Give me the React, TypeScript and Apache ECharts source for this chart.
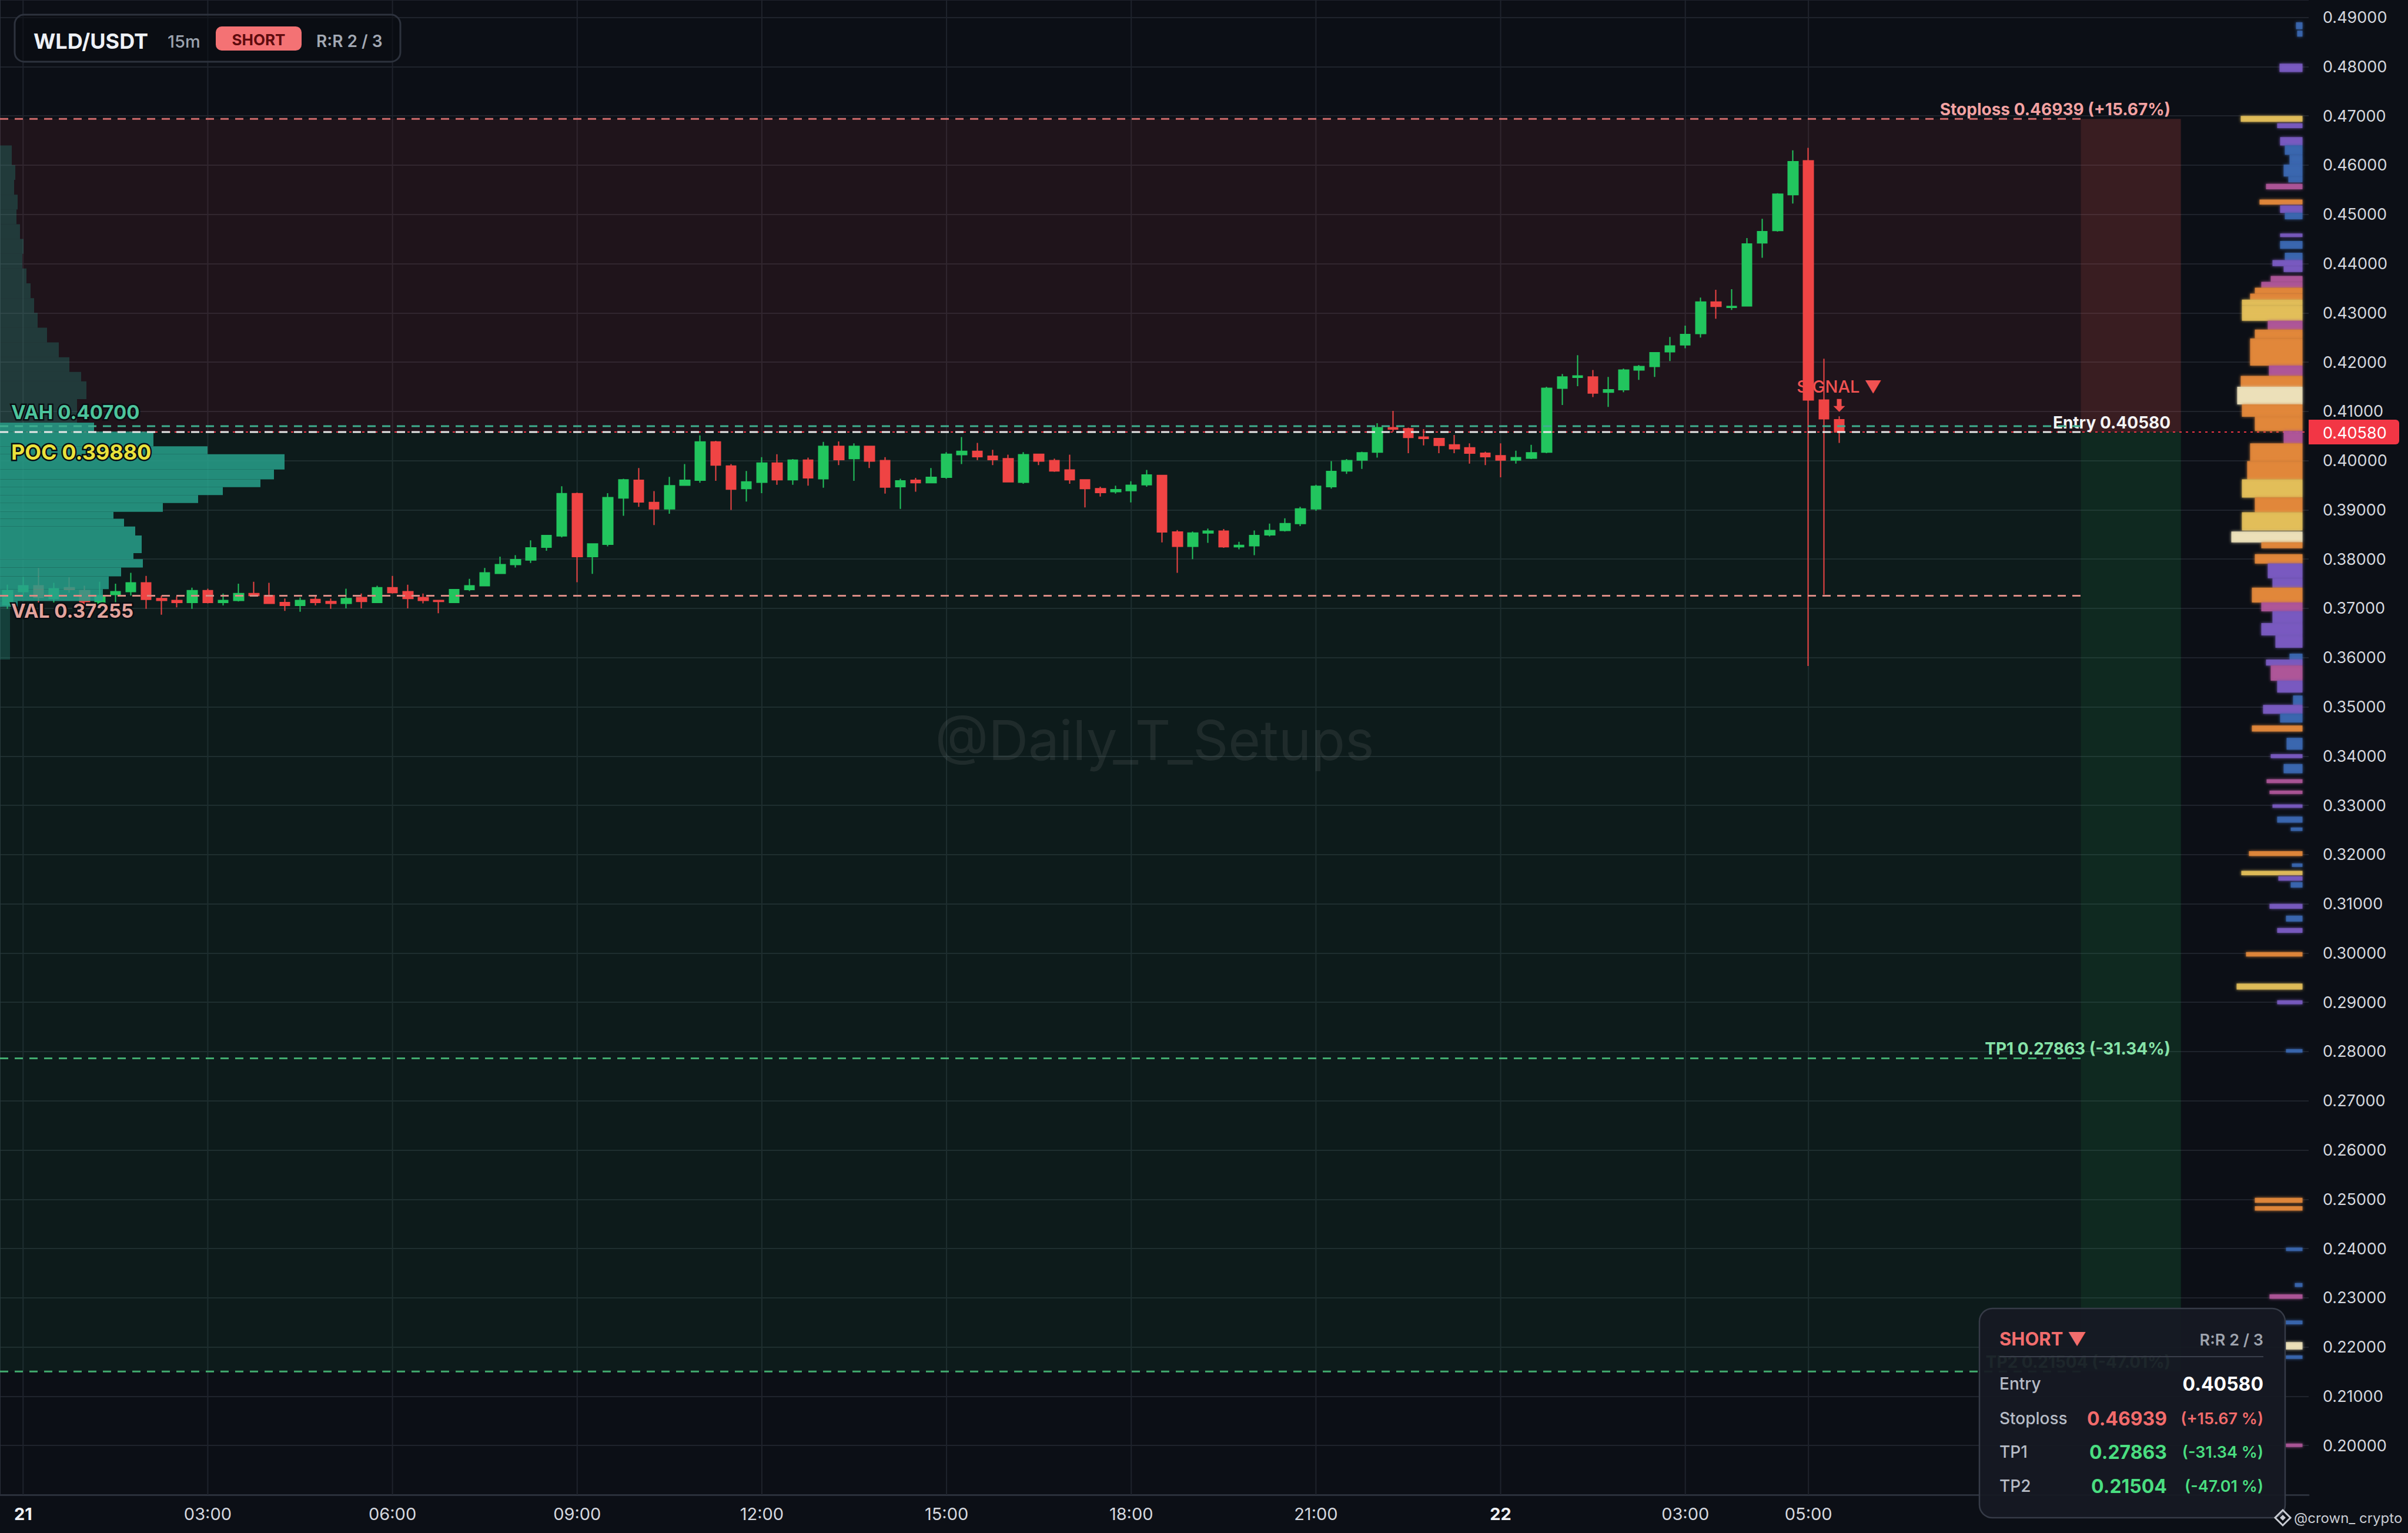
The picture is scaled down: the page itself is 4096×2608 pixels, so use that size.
import React, { useEffect, useRef } from "react";
import * as echarts from "echarts";

// ---------------- data ----------------
const symbolName = "WLD/USDT";
const timeframe = "15m";
const side = "SHORT";
const riskReward = "2 / 3";
const watermark = "@Daily_T_Setups";
const credit = "@crown_ crypto";

const firstDay = 20;
const firstMinuteOfDay = 23 * 60 + 45;
const slotMinutes = 15;
const slotCount = 150;

const xTickTimes = ["21 00:00", "21 03:00", "21 06:00", "21 09:00", "21 12:00", "21 15:00", "21 18:00", "21 21:00", "22 00:00", "22 03:00", "22 05:00"];
const xTickLabels = ["21", "03:00", "06:00", "09:00", "12:00", "15:00", "18:00", "21:00", "22", "03:00", "05:00"];
const xTickBold = ["21", "22"];

const yMin = 0.19;
const yMax = 0.49353;
const yStep = 0.01;

// [open, high, low, close] per 15m candle, first = 20th 23:45
const candleOHLC = [
  [0.3707, 0.3748, 0.3699, 0.3736], [0.3734, 0.3764, 0.3724, 0.3746], [0.3746, 0.3782, 0.3712, 0.3722], [0.3720, 0.3752, 0.3712, 0.3740],
  [0.3742, 0.3763, 0.3732, 0.3738], [0.3736, 0.3746, 0.3704, 0.3710], [0.3710, 0.3754, 0.3706, 0.3726], [0.3728, 0.3750, 0.3710, 0.3734],
  [0.3734, 0.3772, 0.3726, 0.3752], [0.3752, 0.3766, 0.3699, 0.3718], [0.3720, 0.3726, 0.3687, 0.3716], [0.3716, 0.3724, 0.3702, 0.3712],
  [0.3712, 0.3742, 0.3699, 0.3736], [0.3736, 0.3740, 0.3710, 0.3712], [0.3712, 0.3730, 0.3706, 0.3716], [0.3716, 0.3750, 0.3714, 0.3730],
  [0.3730, 0.3754, 0.3724, 0.3726], [0.3726, 0.3752, 0.3710, 0.3710], [0.3712, 0.3720, 0.3695, 0.3706], [0.3706, 0.3722, 0.3693, 0.3716],
  [0.3718, 0.3724, 0.3706, 0.3712], [0.3714, 0.3720, 0.3699, 0.3710], [0.3710, 0.3740, 0.3700, 0.3720], [0.3722, 0.3730, 0.3700, 0.3714],
  [0.3712, 0.3746, 0.3712, 0.3742], [0.3742, 0.3766, 0.3730, 0.3732], [0.3734, 0.3748, 0.3700, 0.3720], [0.3722, 0.3730, 0.3710, 0.3716],
  [0.3716, 0.3717, 0.3690, 0.3714], [0.3712, 0.3739, 0.3711, 0.3738], [0.3738, 0.3760, 0.3735, 0.3746], [0.3746, 0.3782, 0.3745, 0.3772],
  [0.3771, 0.3805, 0.3770, 0.3789], [0.3789, 0.3808, 0.3783, 0.3799], [0.3798, 0.3838, 0.3792, 0.3823], [0.3824, 0.3849, 0.3817, 0.3848],
  [0.3847, 0.3948, 0.3844, 0.3933], [0.3933, 0.3935, 0.3753, 0.3805], [0.3805, 0.3832, 0.3770, 0.3831], [0.3830, 0.3934, 0.3826, 0.3925],
  [0.3924, 0.3963, 0.3888, 0.3961], [0.3960, 0.3985, 0.3906, 0.3916], [0.3915, 0.3938, 0.3869, 0.3902], [0.3902, 0.3967, 0.3892, 0.3949],
  [0.3950, 0.3993, 0.3949, 0.3960], [0.3960, 0.4051, 0.3955, 0.4038], [0.4038, 0.4040, 0.3959, 0.3991], [0.3989, 0.3993, 0.3900, 0.3942],
  [0.3943, 0.3979, 0.3917, 0.3957], [0.3956, 0.4007, 0.3934, 0.3995], [0.3995, 0.4013, 0.3951, 0.3961], [0.3961, 0.4003, 0.3951, 0.4001],
  [0.4001, 0.4006, 0.3949, 0.3965], [0.3963, 0.4038, 0.3945, 0.4029], [0.4029, 0.4039, 0.3991, 0.4002], [0.4004, 0.4035, 0.3959, 0.4029],
  [0.4029, 0.4030, 0.3985, 0.3999], [0.4000, 0.4007, 0.3933, 0.3946], [0.3947, 0.3963, 0.3902, 0.3959], [0.3960, 0.3965, 0.3937, 0.3955],
  [0.3955, 0.3985, 0.3954, 0.3966], [0.3966, 0.4017, 0.3963, 0.4013], [0.4012, 0.4048, 0.3993, 0.4019], [0.4019, 0.4036, 0.4001, 0.4008],
  [0.4009, 0.4022, 0.3991, 0.4002], [0.4004, 0.4012, 0.3957, 0.3957], [0.3956, 0.4017, 0.3953, 0.4012], [0.4013, 0.4014, 0.3991, 0.3999],
  [0.4000, 0.4004, 0.3977, 0.3979], [0.3981, 0.4012, 0.3953, 0.3961], [0.3961, 0.3962, 0.3905, 0.3943], [0.3943, 0.3947, 0.3927, 0.3935],
  [0.3937, 0.3949, 0.3933, 0.3941], [0.3939, 0.3958, 0.3915, 0.3950], [0.3951, 0.3981, 0.3947, 0.3971], [0.3970, 0.3971, 0.3834, 0.3855],
  [0.3855, 0.3859, 0.3772, 0.3826], [0.3826, 0.3856, 0.3800, 0.3853], [0.3853, 0.3862, 0.3833, 0.3857], [0.3857, 0.3861, 0.3823, 0.3825],
  [0.3825, 0.3835, 0.3820, 0.3828], [0.3827, 0.3858, 0.3808, 0.3848], [0.3849, 0.3872, 0.3846, 0.3858], [0.3858, 0.3883, 0.3856, 0.3872],
  [0.3872, 0.3906, 0.3867, 0.3902], [0.3902, 0.3951, 0.3898, 0.3948], [0.3947, 0.3999, 0.3943, 0.3978], [0.3979, 0.4003, 0.3973, 0.4000],
  [0.4001, 0.4018, 0.3983, 0.4016], [0.4017, 0.4076, 0.4006, 0.4067], [0.4067, 0.4101, 0.4059, 0.4064], [0.4065, 0.4067, 0.4015, 0.4047],
  [0.4048, 0.4064, 0.4031, 0.4045], [0.4045, 0.4046, 0.4015, 0.4031], [0.4032, 0.4052, 0.4015, 0.4024], [0.4026, 0.4035, 0.3994, 0.4015],
  [0.4015, 0.4018, 0.3991, 0.4008], [0.4010, 0.4035, 0.3966, 0.4001], [0.4001, 0.4020, 0.3994, 0.4006], [0.4005, 0.4032, 0.4003, 0.4016],
  [0.4017, 0.4150, 0.4015, 0.4147], [0.4147, 0.4176, 0.4113, 0.4170], [0.4169, 0.4214, 0.4151, 0.4172], [0.4170, 0.4184, 0.4129, 0.4137],
  [0.4139, 0.4170, 0.4109, 0.4144], [0.4144, 0.4187, 0.4139, 0.4184], [0.4184, 0.4194, 0.4164, 0.4191], [0.4191, 0.4220, 0.4170, 0.4219],
  [0.4221, 0.4251, 0.4202, 0.4233], [0.4235, 0.4274, 0.4228, 0.4256], [0.4258, 0.4331, 0.4250, 0.4322], [0.4322, 0.4347, 0.4288, 0.4313],
  [0.4311, 0.4348, 0.4306, 0.4313], [0.4314, 0.4452, 0.4313, 0.4440], [0.4442, 0.4491, 0.4412, 0.4465], [0.4467, 0.4543, 0.4465, 0.4541],
  [0.4540, 0.4630, 0.4522, 0.4607], [0.4609, 0.4635, 0.3583, 0.4123], [0.4123, 0.4207, 0.3728, 0.4085], [0.4083, 0.4090, 0.4036, 0.4058],
];

const tradeNames = ["Stoploss", "Entry", "TP1", "TP2"];
const tradePrices = [0.46939, 0.4058, 0.27863, 0.21504];
const tradePct = ["+15.67", "", "-31.34", "-47.01"];
const profileNames = ["VAH", "POC", "VAL"];
const profilePrices = [0.407, 0.3988, 0.37255];
const lastPrice = 0.4058;
const signalCandle = 119;
const signalArrowPrice = 0.4112;
const signalTextPrice = 0.415;

// session volume profile (left): [low, high, volume]
const sessionProfile = [
  [0.4600, 0.4640, 20], [0.4570, 0.4600, 26], [0.4540, 0.4570, 24], [0.4510, 0.4540, 30], [0.4480, 0.4510, 28],
  [0.4450, 0.4480, 34], [0.4420, 0.4450, 40], [0.4390, 0.4420, 38], [0.4360, 0.4390, 45], [0.4330, 0.4360, 52],
  [0.4300, 0.4330, 58], [0.4270, 0.4300, 64], [0.4240, 0.4270, 80], [0.4210, 0.4240, 100], [0.4180, 0.4210, 118],
  [0.4161, 0.4180, 138], [0.4125, 0.4161, 147], [0.4077, 0.4125, 131], [0.4059, 0.4077, 160], [0.4045, 0.4059, 261],
  [0.4029, 0.4045, 261], [0.4013, 0.4029, 353], [0.3982, 0.4013, 484], [0.3962, 0.3982, 466], [0.3946, 0.3962, 443],
  [0.3930, 0.3946, 379], [0.3914, 0.3930, 337], [0.3896, 0.3914, 277], [0.3882, 0.3896, 193], [0.3866, 0.3882, 211],
  [0.3848, 0.3866, 230], [0.3812, 0.3848, 241], [0.3800, 0.3812, 227], [0.3783, 0.3800, 243], [0.3765, 0.3783, 206],
  [0.3739, 0.3765, 185], [0.3715, 0.3739, 175], [0.3703, 0.3715, 30], [0.3596, 0.3703, 17],
];

// visible range profile (right): [low, high, volume, heat bucket]
const rangeProfile = [
  [0.4876, 0.4890, 11, 1], [0.4861, 0.4873, 9, 1], [0.4789, 0.4806, 39, 0], [0.4688, 0.4700, 105, 4], [0.4675, 0.4685, 43, 0],
  [0.4640, 0.4657, 38, 0], [0.4621, 0.4640, 30, 1], [0.4601, 0.4621, 22, 1], [0.4577, 0.4601, 32, 1], [0.4565, 0.4577, 24, 1],
  [0.4551, 0.4562, 62, 2], [0.4520, 0.4530, 73, 3], [0.4503, 0.4518, 38, 0], [0.4490, 0.4503, 30, 1], [0.4454, 0.4461, 38, 0],
  [0.4430, 0.4446, 38, 1], [0.4407, 0.4422, 30, 1], [0.4395, 0.4407, 51, 0], [0.4383, 0.4395, 32, 0], [0.4363, 0.4375, 54, 2],
  [0.4351, 0.4363, 70, 2], [0.4339, 0.4351, 81, 3], [0.4327, 0.4339, 89, 3], [0.4315, 0.4327, 103, 4], [0.4284, 0.4315, 103, 4],
  [0.4266, 0.4284, 59, 2], [0.4248, 0.4266, 81, 3], [0.4193, 0.4248, 89, 3], [0.4172, 0.4193, 57, 2], [0.4150, 0.4172, 105, 3],
  [0.4114, 0.4150, 111, 5], [0.4089, 0.4114, 103, 3], [0.4060, 0.4089, 81, 3], [0.4035, 0.4060, 32, 2], [0.3999, 0.4035, 89, 3],
  [0.3962, 0.3999, 94, 3], [0.3925, 0.3962, 103, 4], [0.3895, 0.3925, 81, 3], [0.3858, 0.3895, 103, 4], [0.3834, 0.3856, 121, 5],
  [0.3822, 0.3834, 70, 3], [0.3791, 0.3810, 81, 3], [0.3761, 0.3791, 59, 0], [0.3742, 0.3761, 51, 0], [0.3712, 0.3742, 86, 3],
  [0.3694, 0.3712, 70, 2], [0.3670, 0.3694, 51, 0], [0.3645, 0.3670, 70, 0], [0.3620, 0.3645, 46, 0], [0.3596, 0.3608, 22, 1],
  [0.3584, 0.3596, 62, 0], [0.3553, 0.3584, 54, 2], [0.3529, 0.3553, 43, 0], [0.3504, 0.3523, 16, 1], [0.3486, 0.3504, 67, 0],
  [0.3468, 0.3486, 38, 1], [0.3450, 0.3462, 86, 3], [0.3413, 0.3437, 27, 1], [0.3396, 0.3404, 54, 0], [0.3365, 0.3384, 32, 1],
  [0.3345, 0.3353, 61, 2], [0.3323, 0.3330, 56, 2], [0.3295, 0.3302, 51, 0], [0.3265, 0.3277, 43, 1], [0.3248, 0.3255, 20, 1],
  [0.3197, 0.3207, 91, 3], [0.3175, 0.3182, 18, 1], [0.3158, 0.3167, 104, 4], [0.3147, 0.3156, 41, 0], [0.3133, 0.3144, 20, 1],
  [0.3090, 0.3100, 56, 0], [0.3064, 0.3076, 28, 1], [0.3041, 0.3051, 43, 0], [0.2993, 0.3002, 96, 3], [0.2926, 0.2938, 112, 4],
  [0.2896, 0.2904, 43, 0], [0.2798, 0.2805, 28, 1], [0.2493, 0.2503, 81, 3], [0.2477, 0.2486, 81, 3], [0.2395, 0.2402, 28, 1],
  [0.2322, 0.2330, 13, 1], [0.2298, 0.2307, 56, 2], [0.2246, 0.2254, 33, 1], [0.2195, 0.2210, 29, 5], [0.2176, 0.2183, 29, 1],
  [0.1997, 0.2004, 29, 2],
];

// ---------------- layout & style ----------------
const CHART_W = 4096;
const CHART_H = 2608;
const gridRight = 169;
const gridBottom = 65;
const plotWidthPx = CHART_W - gridRight;
const posStartSlot = 135.2;
const posEndSlot = 141.7;
const labelEndSlot = 141.03;
const rightProfileGap = 10.5;

const FONT = 'Inter, "DejaVu Sans", sans-serif';
const BG = "#0c0f16";
const GRID_COLOR = "#1f232c";
const AXIS_COLOR = "#2b303b";
const LABEL_COLOR = "#d5d8df";
const upColor = "#22c55e";
const downColor = "#ef4444";
const priceTagColor = "#f23645";
const heatColors = ["#7b5cc4", "#3b68b3", "#b2579b", "#e6893b", "#e7c25a", "#f1e5bd"];
const zoneColors = ["rgba(239,83,80,0.085)", "rgba(239,83,80,0.2)", "rgba(34,197,94,0.07)", "rgba(34,197,94,0.15)"];
const tradeLineColors = ["rgba(227,116,116,0.9)", "#e8e8e8", "rgba(76,197,126,0.85)", "rgba(76,197,126,0.85)"];
const tradeLabelColors = ["#f3a2a2", "#f4f4f4", "#86e3a8", "#86e3a8"];
const profileLineColors = ["#3fae8f", "#e6dc3a", "#d98b84"];
const profileLabelColors = ["#4dc49c", "#e9e23c", "#e3a39c"];
const profileLabelFonts = [`bold 33px ${FONT}`, `bold 36px ${FONT}`, `bold 33px ${FONT}`];
const profileLabelOffsets = [-24, -25, 25];
const ARROW_PATH = "path://M3,0L7,0L7,6L10,6L5,11L0,6L3,6Z";

function buildCategories() {
  const out: string[] = [];
  let d = firstDay;
  let m = firstMinuteOfDay;
  for (let i = 0; i < slotCount; i++) {
    const hh = Math.floor(m / 60);
    const mm = m % 60;
    out.push(`${d} ${String(hh).padStart(2, "0")}:${String(mm).padStart(2, "0")}`);
    m += slotMinutes;
    if (m >= 1440) { m -= 1440; d += 1; }
  }
  return out;
}

const fmt5 = (v: number) => v.toFixed(5);

function txt(x: number, y: number, text: string, font: string, fill: string, align = "left", vAlign = "middle", z = 102) {
  return {
    type: "text", x, y, z, silent: true,
    style: { text, font, fill, textAlign: align, textVerticalAlign: vAlign, align, verticalAlign: vAlign },
  };
}

function buildOption() {
  const categories = buildCategories();
  const tickSet = new Set(xTickTimes);
  const tickIndex = xTickTimes.map((t) => categories.indexOf(t));
  const [stop, entry, , tp2] = tradePrices;
  const vah = profilePrices[0];
  const val = profilePrices[2];

  const series: any[] = [];

  // vertical time grid
  series.push({
    type: "custom", name: "timeGrid", xAxisIndex: 0, yAxisIndex: 0, z: 1, silent: true,
    data: tickIndex.map((i) => [i, yMin]),
    renderItem: (params: any, api: any) => {
      const cs = params.coordSys;
      const x = api.coord([api.value(0), api.value(1)])[0];
      return { type: "line", shape: { x1: x, y1: cs.y, x2: x, y2: cs.y + cs.height }, style: { stroke: GRID_COLOR, lineWidth: 2 } };
    },
  });

  // risk / reward zones
  series.push({
    type: "custom", name: "zones", xAxisIndex: 1, yAxisIndex: 0, z: 1, silent: true,
    data: [
      [0, posStartSlot, stop, entry, 0],
      [posStartSlot, posEndSlot, stop, entry, 1],
      [0, posStartSlot, entry, tp2, 2],
      [posStartSlot, posEndSlot, entry, tp2, 3],
    ],
    renderItem: (params: any, api: any) => {
      const a = api.coord([api.value(0), api.value(2)]);
      const b = api.coord([api.value(1), api.value(3)]);
      return { type: "rect", shape: { x: a[0], y: a[1], width: b[0] - a[0], height: b[1] - a[1] }, style: { fill: zoneColors[api.value(4)] } };
    },
  });

  // signal text (under candles)
  series.push({
    type: "custom", name: "signalText", xAxisIndex: 1, yAxisIndex: 0, z: 2, silent: true,
    data: [[signalCandle + 0.5, signalTextPrice]],
    renderItem: (params: any, api: any) => {
      const p = api.coord([api.value(0), api.value(1)]);
      return {
        type: "text", x: p[0], y: p[1],
        style: { text: "SIGNAL ▼", font: `500 29px ${FONT}`, fill: "#f05252", textAlign: "center", textVerticalAlign: "middle", align: "center", verticalAlign: "middle" },
      };
    },
  });

  // last price line + tag
  series.push({
    type: "custom", name: "lastPrice", xAxisIndex: 1, yAxisIndex: 0, z: 3, silent: true, clip: false,
    data: [[0, lastPrice]],
    renderItem: (params: any, api: any) => {
      const cs = params.coordSys;
      const y = api.coord([api.value(0), api.value(1)])[1];
      const xr = cs.x + cs.width;
      return {
        type: "group",
        children: [
          { type: "line", shape: { x1: cs.x, y1: y, x2: xr, y2: y }, style: { stroke: priceTagColor, lineWidth: 2, lineDash: [4, 7] } },
          { type: "rect", shape: { x: xr, y: y - 21, width: 154, height: 42, r: [0, 6, 6, 0] }, style: { fill: priceTagColor } },
          {
            type: "text", x: xr + 24, y: y + 1,
            style: { text: fmt5(api.value(1)), font: `27px ${FONT}`, fill: "#ffffff", textAlign: "left", textVerticalAlign: "middle", align: "left", verticalAlign: "middle" },
          },
        ],
      };
    },
  });

  // candles
  series.push({
    type: "candlestick", name: symbolName, xAxisIndex: 0, yAxisIndex: 0, z: 3,
    barWidth: 17,
    data: candleOHLC.map(([o, h, l, c]) => [o, c, l, h]),
    itemStyle: { color: upColor, color0: downColor, borderColor: upColor, borderColor0: downColor, borderWidth: 2 },
    markPoint: {
      silent: true, animation: false, label: { show: false },
      data: [{ coord: [categories[signalCandle], signalArrowPrice], symbol: ARROW_PATH, symbolSize: [20, 22], itemStyle: { color: "#f04b4b" } }],
    },
  });

  // session volume profile (left)
  series.push({
    type: "custom", name: "sessionProfile", xAxisIndex: 3, yAxisIndex: 0, z: 4, silent: true,
    data: sessionProfile.map(([lo, hi, v]) => [v, lo, hi]),
    renderItem: (params: any, api: any) => {
      const v = api.value(0), lo = api.value(1), hi = api.value(2);
      const a = api.coord([0, hi]);
      const b = api.coord([v, lo]);
      const mid = (lo + hi) / 2;
      const inVA = mid <= vah && mid >= val - 0.0025;
      return {
        type: "rect", shape: { x: a[0], y: a[1], width: b[0] - a[0], height: b[1] - a[1] },
        style: { fill: inVA ? "rgba(40,160,138,0.86)" : "rgba(40,150,132,0.3)" },
      };
    },
  });

  // visible range profile (right)
  series.push({
    type: "custom", name: "rangeProfile", xAxisIndex: 2, yAxisIndex: 0, z: 4, silent: true,
    data: rangeProfile.map(([lo, hi, v, h]) => [v, lo, hi, h]),
    renderItem: (params: any, api: any) => {
      const v = api.value(0), lo = api.value(1), hi = api.value(2), h = api.value(3);
      const r = api.coord([rightProfileGap, hi]);
      const l = api.coord([rightProfileGap + v, lo]);
      const x0 = Math.min(l[0], r[0]);
      const col = heatColors[h];
      return {
        type: "rect", shape: { x: x0, y: r[1], width: Math.abs(r[0] - l[0]), height: l[1] - r[1] },
        style: { fill: col, opacity: 0.85, shadowBlur: 5, shadowColor: col },
      };
    },
  });

  // trade levels
  series.push({
    type: "custom", name: "tradeLevels", xAxisIndex: 1, yAxisIndex: 0, z: 6, silent: true,
    data: tradePrices.map((p, i) => [posStartSlot, p, i]),
    renderItem: (params: any, api: any) => {
      const i = api.value(2);
      const price = api.value(1);
      const end = api.coord([api.value(0), price]);
      const lab = api.coord([labelEndSlot, price]);
      const cs = params.coordSys;
      const pct = tradePct[i];
      const text = `${tradeNames[i]} ${fmt5(price)}` + (pct ? ` (${pct}%)` : "");
      return {
        type: "group",
        children: [
          { type: "line", shape: { x1: cs.x, y1: end[1], x2: end[0], y2: end[1] }, style: { stroke: tradeLineColors[i], lineWidth: 3, lineDash: [14, 11] } },
          {
            type: "text", x: lab[0], y: end[1] - 16,
            style: { text, font: `bold 28px ${FONT}`, fill: tradeLabelColors[i], textAlign: "right", textVerticalAlign: "middle", align: "right", verticalAlign: "middle" },
          },
        ],
      };
    },
  });

  // VAH / POC / VAL
  series.push({
    type: "custom", name: "profileLevels", xAxisIndex: 1, yAxisIndex: 0, z: 6, silent: true,
    data: profilePrices.map((p, i) => [posStartSlot, p, i]),
    renderItem: (params: any, api: any) => {
      const i = api.value(2);
      const price = api.value(1);
      const end = api.coord([api.value(0), price]);
      const cs = params.coordSys;
      const isPoc = i === 1;
      return {
        type: "group",
        children: [
          {
            type: "line", shape: { x1: cs.x, y1: end[1], x2: end[0], y2: end[1] },
            style: isPoc
              ? { stroke: profileLineColors[i], lineWidth: 5, shadowBlur: 8, shadowColor: "rgba(230,220,58,0.6)" }
              : { stroke: profileLineColors[i], lineWidth: 3, lineDash: [14, 11] },
          },
          {
            type: "text", x: cs.x + 19, y: end[1] + profileLabelOffsets[i],
            style: {
              text: `${profileNames[i]} ${fmt5(price)}`, font: profileLabelFonts[i], fill: profileLabelColors[i],
              stroke: "#0a0d12", lineWidth: 5, strokeFirst: true,
              textAlign: "left", textVerticalAlign: "middle", align: "left", verticalAlign: "middle",
            },
          },
        ],
      };
    },
  });

  // ---------- overlays ----------
  const graphics: any[] = [];
  graphics.push(txt(1964, 1259, watermark, `94px ${FONT}`, "rgba(255,255,255,0.075)", "center", "middle", 90));

  // header
  graphics.push({ type: "rect", z: 100, silent: true, shape: { x: 25, y: 25, width: 656, height: 80, r: 16 }, style: { fill: "rgba(10,13,19,0.55)", stroke: "#2d323d", lineWidth: 3 } });
  graphics.push(txt(57, 70, symbolName, `bold 36px ${FONT}`, "#eef1f6"));
  graphics.push(txt(285, 70, timeframe, `500 29px ${FONT}`, "#9ca3af"));
  graphics.push({ type: "rect", z: 101, silent: true, shape: { x: 367, y: 45, width: 146, height: 41, r: 10 }, style: { fill: "#f47274" } });
  graphics.push(txt(440, 67, side, `bold 26px ${FONT}`, "#5e0b0e", "center"));
  graphics.push(txt(538, 70, `R:R ${riskReward}`, `600 28px ${FONT}`, "#a3a9b4"));

  // info box
  const bx = 3367, by = 2226, bw = 520, bh = 356;
  const padL = bx + 34, padR = bx + bw - 37, valR = bx + 319;
  graphics.push({ type: "rect", z: 100, silent: true, shape: { x: bx, y: by, width: bw, height: bh, r: 22 }, style: { fill: "rgba(22,26,35,0.94)", stroke: "#363b47", lineWidth: 2.5 } });
  graphics.push(txt(padL, by + 51, `${side} ▼`, `bold 31px ${FONT}`, "#f26d6d"));
  graphics.push(txt(padR, by + 53, `R:R ${riskReward}`, `600 27px ${FONT}`, "#9ea3ad", "right"));
  graphics.push({ type: "line", z: 101, silent: true, shape: { x1: padL, y1: by + 82, x2: padR, y2: by + 82 }, style: { stroke: "#3a3f4b", lineWidth: 2 } });
  const boxOrder = [1, 0, 2, 3];
  const rowY = [by + 128, by + 187, by + 244, by + 302];
  boxOrder.forEach((ti, k) => {
    const y = rowY[k];
    graphics.push(txt(padL, y, tradeNames[ti], `500 28px ${FONT}`, "#b6bbc5"));
    const pct = tradePct[ti];
    if (!pct) {
      graphics.push(txt(padR, y, fmt5(tradePrices[ti]), `bold 32px ${FONT}`, "#ffffff", "right"));
    } else {
      const col = pct.startsWith("+") ? "#f26b6b" : "#4ade80";
      graphics.push(txt(valR, y, fmt5(tradePrices[ti]), `bold 32px ${FONT}`, col, "right"));
      graphics.push(txt(padR, y, `(${pct} %)`, `600 27px ${FONT}`, col, "right"));
    }
  });

  // credit mark
  const cx = 3883, cy = 2582;
  graphics.push({ type: "polygon", z: 101, silent: true, shape: { points: [[cx, cy - 13], [cx + 13, cy], [cx, cy + 13], [cx - 13, cy]] }, style: { fill: "none", stroke: "#c9ccd3", lineWidth: 3 } });
  graphics.push({ type: "polygon", z: 101, silent: true, shape: { points: [[cx, cy - 5], [cx + 5, cy], [cx, cy + 5], [cx - 5, cy]] }, style: { fill: "#c9ccd3" } });
  graphics.push(txt(3902, cy, credit, `24px ${FONT}`, "#c9ccd3"));

  return {
    backgroundColor: BG,
    animation: false,
    grid: { left: 0, right: gridRight, top: 0, bottom: gridBottom, containLabel: false },
    xAxis: [
      {
        type: "category", data: categories, boundaryGap: true,
        axisLine: { show: true, lineStyle: { color: AXIS_COLOR, width: 3 } },
        axisTick: { show: false }, splitLine: { show: false },
        axisLabel: {
          interval: (_i: number, v: string) => tickSet.has(v),
          formatter: (v: string) => {
            const t = xTickLabels[xTickTimes.indexOf(v)] || "";
            return xTickBold.includes(t) ? `{b|${t}}` : t;
          },
          color: LABEL_COLOR, fontSize: 29, fontFamily: FONT, margin: 18,
          rich: { b: { fontWeight: "bold", fontSize: 29, color: "#f0f2f6", fontFamily: FONT } },
        },
      },
      { type: "value", min: 0, max: slotCount, show: false, splitLine: { show: false } },
      { type: "value", min: 0, max: plotWidthPx, inverse: true, show: false, splitLine: { show: false } },
      { type: "value", min: 0, max: plotWidthPx, show: false, splitLine: { show: false } },
    ],
    yAxis: [
      {
        type: "value", position: "right", min: yMin, max: yMax, interval: yStep,
        splitLine: { show: true, lineStyle: { color: GRID_COLOR, width: 2 } },
        axisLine: { show: true, lineStyle: { color: AXIS_COLOR, width: 2 } },
        axisTick: { show: false },
        axisLabel: {
          formatter: (v: number) => v.toFixed(5), color: LABEL_COLOR, fontSize: 27, fontFamily: FONT, margin: 24,
          showMinLabel: false, showMaxLabel: false,
        },
      },
    ],
    series,
    graphic: { elements: graphics },
  };
}

export default function App() {
  const ref = useRef<HTMLDivElement>(null);
  useEffect(() => {
    if (!ref.current) return;
    const chart = echarts.init(ref.current, undefined, { renderer: "svg" });
    chart.setOption(buildOption() as any);
    return () => chart.dispose();
  }, []);
  return <div ref={ref} style={{ position: "fixed", left: 0, top: 0, width: CHART_W, height: CHART_H, background: BG }} />;
}
